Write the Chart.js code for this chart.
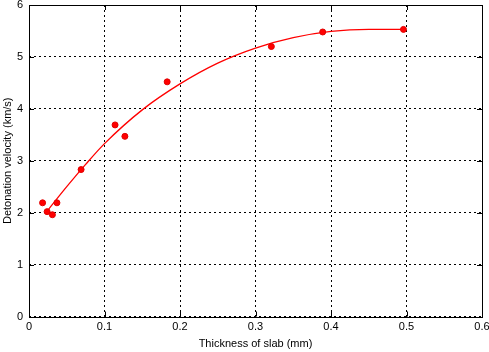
<!DOCTYPE html>
<html>
<head>
<meta charset="utf-8">
<script src="https://cdn.jsdelivr.net/npm/chart.js@4.4.0/dist/chart.umd.min.js"></script>
<style>
  body { margin: 0; background: #fff; }
  canvas { display: block; }
</style>
</head>
<body>
<canvas id="chart" width="489" height="352"></canvas>
<script>
// measured points
const thickness = [0.018, 0.024, 0.031, 0.037, 0.069, 0.114, 0.127, 0.183, 0.321, 0.389, 0.496];
const velocity  = [2.19, 2.02, 1.96, 2.19, 2.83, 3.69, 3.47, 4.52, 5.20, 5.48, 5.53];

// fitted curve
const fitX = [0.024, 0.05, 0.075, 0.1, 0.15, 0.2, 0.25, 0.3, 0.35, 0.4, 0.45, 0.496];
const fitY = [2.03, 2.50, 2.93, 3.33, 3.98, 4.48, 4.88, 5.17, 5.37, 5.49, 5.53, 5.53];

const xTicks = [0, 0.1, 0.2, 0.3, 0.4, 0.5, 0.6];
const yTicks = [0, 1, 2, 3, 4, 5, 6];

const FONT = { family: '"Liberation Sans", Arial, sans-serif', size: 11, lineHeight: 1 };

// matlab-like box with inward tick marks
const boxTicks = {
  id: 'boxTicks',
  afterDraw(chart) {
    const { ctx, chartArea: a, scales } = chart;
    ctx.save();
    ctx.strokeStyle = '#000';
    ctx.lineWidth = 1;
    ctx.beginPath();
    xTicks.forEach(v => {
      const px = Math.round(scales.x.getPixelForValue(v)) + 0.5;
      ctx.moveTo(px, a.bottom); ctx.lineTo(px, a.bottom - 5);
      ctx.moveTo(px, a.top); ctx.lineTo(px, a.top + 5);
    });
    yTicks.forEach(v => {
      const py = Math.round(scales.y.getPixelForValue(v)) + 0.5;
      ctx.moveTo(a.left, py); ctx.lineTo(a.left + 5, py);
      ctx.moveTo(a.right, py); ctx.lineTo(a.right - 5, py);
    });
    ctx.stroke();
    ctx.strokeRect(Math.round(a.left) + 0.5, Math.round(a.top) + 0.5,
      Math.round(a.right - a.left), Math.round(a.bottom - a.top));
    ctx.restore();
  }
};

function noPad(s) {
  s.paddingTop = 0; s.paddingBottom = 0; s.paddingLeft = 0; s.paddingRight = 0;
}

new Chart(document.getElementById('chart'), {
  type: 'scatter',
  data: {
    datasets: [
      {
        label: 'Measured',
        data: thickness.map((x, i) => ({ x, y: velocity[i] })),
        backgroundColor: '#ff0000',
        borderColor: '#e00000',
        borderWidth: 1,
        pointRadius: 3,
      },
      {
        label: 'Fit',
        data: fitX.map((x, i) => ({ x, y: fitY[i] })),
        showLine: true,
        borderColor: '#ff0000',
        borderWidth: 1.3,
        pointRadius: 0,
        cubicInterpolationMode: 'monotone',
      },
    ],
  },
  options: {
    responsive: false,
    animation: false,
    devicePixelRatio: 1,
    layout: { padding: { top: 4.5, right: 7, left: 0, bottom: 0 } },
    plugins: { legend: { display: false }, tooltip: { enabled: false } },
    scales: {
      x: {
        type: 'linear',
        min: 0, max: 0.6,
        afterBuildTicks: s => { s.ticks = xTicks.map(v => ({ value: v })); },
        afterFit: s => { s.height = 35.5; noPad(s); },
        ticks: {
          color: '#000', font: FONT, padding: 5,
          callback: v => v === 0 ? '0' : v.toFixed(1),
        },
        grid: { color: '#000', lineWidth: 1, drawTicks: false },
        border: { display: false, dash: [2, 3] },
        title: { display: true, text: 'Thickness of slab (mm)', color: '#000', font: FONT, padding: { top: 0, bottom: 3 } },
      },
      y: {
        min: 0, max: 6,
        afterBuildTicks: s => { s.ticks = yTicks.map(v => ({ value: v })); },
        afterFit: s => { s.width = 29; noPad(s); },
        ticks: { color: '#000', font: FONT, padding: 6 },
        grid: { color: '#000', lineWidth: 1, drawTicks: false },
        border: { display: false, dash: [2, 3] },
        title: { display: true, text: 'Detonation velocity (km/s)', color: '#000', font: FONT, padding: { top: 2, bottom: 0 } },
      },
    },
  },
  plugins: [boxTicks],
});
</script>
</body>
</html>
